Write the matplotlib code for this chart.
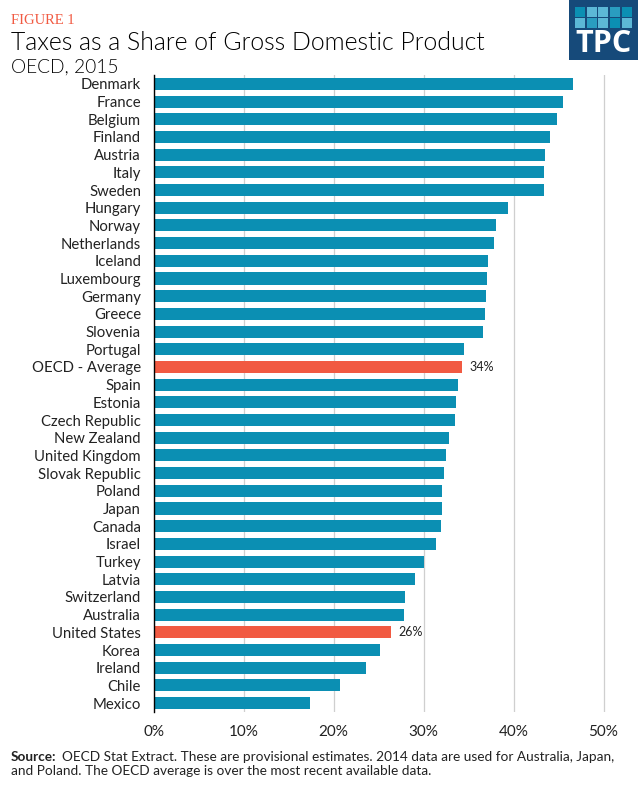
import matplotlib
matplotlib.use('Agg')
import matplotlib.pyplot as plt
from matplotlib import font_manager as fm
from matplotlib.patches import Rectangle

countries = ['Denmark', 'France', 'Belgium', 'Finland', 'Austria', 'Italy', 'Sweden', 'Hungary',
             'Norway', 'Netherlands', 'Iceland', 'Luxembourg', 'Germany', 'Greece', 'Slovenia',
             'Portugal', 'OECD - Average', 'Spain', 'Estonia', 'Czech Republic', 'New Zealand',
             'United Kingdom', 'Slovak Republic', 'Poland', 'Japan', 'Canada', 'Israel', 'Turkey',
             'Latvia', 'Switzerland', 'Australia', 'United States', 'Korea', 'Ireland', 'Chile',
             'Mexico']
values = [46.6, 45.5, 44.8, 44.1, 43.5, 43.4, 43.4, 39.4, 38.1, 37.8, 37.2, 37.0, 36.9, 36.8,
          36.6, 34.5, 34.3, 33.8, 33.6, 33.5, 32.8, 32.5, 32.3, 32.1, 32.0, 31.9, 31.4, 30.0,
          29.0, 27.9, 27.8, 26.4, 25.2, 23.6, 20.7, 17.4]
highlight = {'OECD - Average': '34%', 'United States': '26%'}
ticks = [0, 10, 20, 30, 40, 50]
tick_labels = ['0%', '10%', '20%', '30%', '40%', '50%']

W, H = 638, 789
BLUE = '#0b8fb3'
RED = '#f15a42'
NAVY = '#164a7a'

plt.rcParams['font.family'] = ['Lato', 'DejaVu Sans']

# Lato Light by file, weight='light' picks the hairline cut
light_files = [f for f in fm.findSystemFonts() if f.endswith('Lato-Light.ttf')]
light = dict(fname=light_files[0]) if light_files else dict(family='Lato')

fig = plt.figure(figsize=(W / 100, H / 100), dpi=100)
ax = fig.add_axes([153.5 / W, 1 - 712 / H, 480 / W, (712 - 75) / H])

colors = [RED if c in highlight else BLUE for c in countries]
pos = list(range(len(countries)))
ax.barh(pos, values, height=0.68, color=colors, zorder=3)
for p, c, v in zip(pos, countries, values):
    if c in highlight:
        ax.annotate(highlight[c], (v, p), xytext=(5, 0), textcoords='offset points',
                    va='center', fontsize=9, color='#222222')

ax.set_ylim(len(countries) - 0.5, -0.5)
ax.set_xlim(0, 480 / 9.0)
ax.set_xticks(ticks)
ax.set_xticklabels(tick_labels, fontsize=11, color='#222222')
ax.set_yticks(pos)
ax.set_yticklabels(countries, fontsize=10.7, color='#222222')
ax.tick_params(axis='both', length=0)
ax.tick_params(axis='x', pad=9)
ax.tick_params(axis='y', pad=9)
ax.grid(axis='x', color='#cfcfcf', lw=0.9, zorder=0)
for s in ['top', 'right', 'bottom']:
    ax.spines[s].set_visible(False)
ax.spines['left'].set_linewidth(1.0)
ax.spines['left'].set_zorder(5)

fig.text(11 / W, 1 - 20 / H, 'FIGURE 1', fontsize=10.5, color=RED, va='center', family='Liberation Serif')
fig.text(11 / W, 1 - 43 / H, 'Taxes as a Share of Gross Domestic Product', color='#000000', va='center',
         fontproperties=fm.FontProperties(size=17.9, **light))
fig.text(11 / W, 1 - 67 / H, 'OECD, 2015', color='#000000', va='center',
         fontproperties=fm.FontProperties(size=13.8, **light))

fig.text(11 / W, 1 - 757 / H, 'Source:', fontsize=9.8, color='#222222', va='center', fontweight='bold')
fig.text(62 / W, 1 - 757 / H, 'OECD Stat Extract. These are provisional estimates. 2014 data are used for Australia, Japan,',
         fontsize=9.8, color='#222222', va='center')
fig.text(11 / W, 1 - 771 / H, 'and Poland. The OECD average is over the most recent available data.',
         fontsize=9.8, color='#222222', va='center')

# logo
logo = fig.add_axes([569 / W, 1 - 60 / H, 69 / W, 60 / H])
logo.set_xlim(0, 69)
logo.set_ylim(60, 0)
logo.axis('off')
logo.add_patch(Rectangle((0, 0), 69, 60, facecolor=NAVY, lw=0))
shades = [['#0b8fb3', '#5cb8d6', '#5cb8d6', '#2a9dc0', '#0b8fb3'],
          ['#5cb8d6', '#2a9dc0', '#5cb8d6', '#0b8fb3', '#5cb8d6']]
for r, row in enumerate(shades):
    for k, col in enumerate(row):
        logo.add_patch(Rectangle((6 + k * 11.7, 6.5 + r * 11.7), 10, 10, facecolor=col, lw=0))
logo.text(34.5, 44, 'TPC', color='white', fontsize=22, fontweight='bold', ha='center', va='center',
          family='Open Sans')

fig.savefig('out.png', dpi=100)
